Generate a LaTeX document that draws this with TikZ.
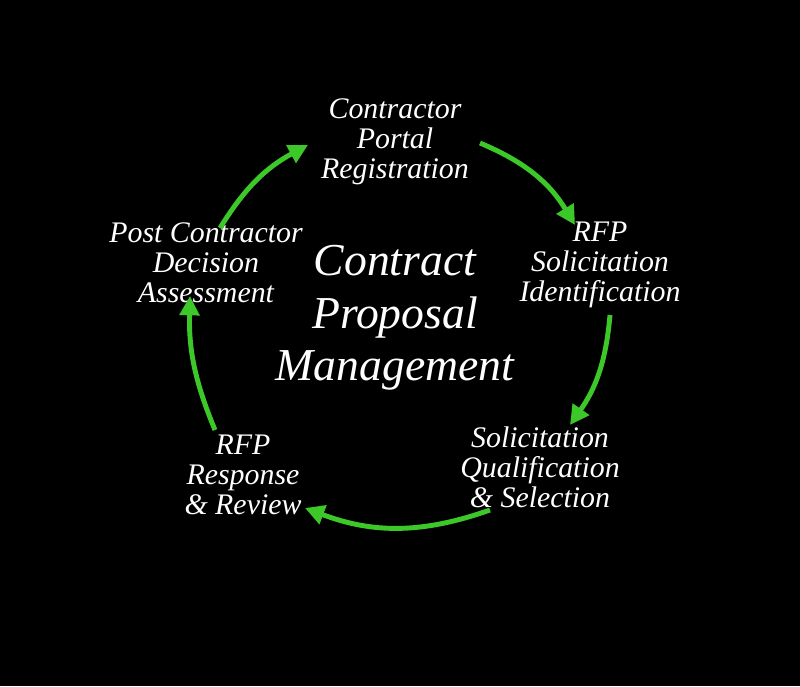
\documentclass[tikz,border=0pt]{standalone}
\usepackage{fontspec}
\setmainfont{Liberation Serif}
\usetikzlibrary{arrows.meta}
\begin{document}
\begin{tikzpicture}[x=0.02cm,y=-0.02cm,
  lbl/.style={text=white,font=\fontsize{17}{17}\selectfont\itshape,align=center},
  arr/.style={draw={rgb,255:red,60;green,200;blue,40},line width=2.8pt,-{Triangle[length=11pt,width=11pt]}}]
\fill[black] (0,0) rectangle (800,686);
\node[lbl] (a) at (395,142) {Contractor\\Portal\\Registration};
\node[lbl] (b) at (600,265) {RFP\\Solicitation\\Identification};
\node[lbl] (c) at (540,467) {Solicitation\\Qualification\\\& Selection};
\node[lbl] (d) at (243,475) {RFP\\Response\\\& Review};
\node[lbl] (e) at (206,263) {Post Contractor\\Decision\\Assessment};
\node[text=white,font=\fontsize{26}{30}\selectfont\itshape,align=center] (m) at (395,318) {Contract\\Proposal\\Management};
\coordinate (a1) at (480,143); \coordinate (a2) at (575,225);
\coordinate (b1) at (610,315); \coordinate (b2) at (570,425);
\coordinate (c1) at (490,510); \coordinate (c2) at (305,508);
\coordinate (d1) at (215,430); \coordinate (d2) at (190,296);
\coordinate (e1) at (220,228); \coordinate (e2) at (308,145);
\draw[arr] (a1) to[bend left=18] (a2);
\draw[arr] (b1) to[bend left=15] (b2);
\draw[arr] (c1) to[bend left=20] (c2);
\draw[arr] (d1) to[bend left=12] (d2);
\draw[arr] (e1) to[bend left=15] (e2);
\end{tikzpicture}
\end{document}
